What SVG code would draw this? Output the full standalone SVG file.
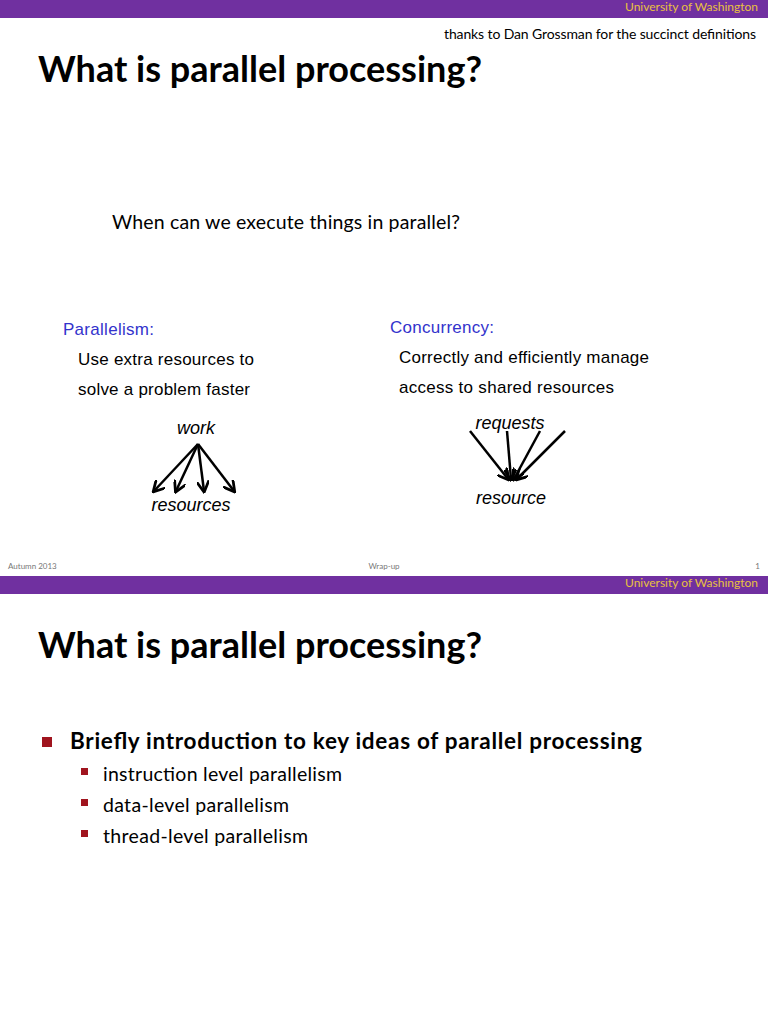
<svg xmlns="http://www.w3.org/2000/svg" width="768" height="1024" viewBox="0 0 768 1024">
<defs>
<style>
.bar{fill:#7030a0}
.uw{font-family:Lato,"Open Sans",sans-serif;font-size:12px;fill:#e8c040}
.title{font-family:Lato,sans-serif;font-size:36px;font-weight:bold;fill:#000}
.cal{font-family:Lato,sans-serif;fill:#000}
.ar{font-family:"Liberation Sans",Arial,sans-serif;fill:#000}
.blue{fill:#3333cc}
.foot{font-family:Lato,sans-serif;font-size:8px;fill:#777}
.ln{stroke:#000;stroke-width:2.5;fill:none;marker-end:url(#ah)}
</style>
<marker id="ah" viewBox="0 0 10 10" refX="8" refY="5" markerWidth="5" markerHeight="5" orient="auto"><path d="M0,0 L9,5 L0,10" fill="none" stroke="#000" stroke-width="2.2"/></marker>
</defs>
<rect width="768" height="1024" fill="#fff"/>
<g id="slide1">
<rect class="bar" x="0" y="0" width="768" height="18"/>
<text class="uw" x="758" y="11" text-anchor="end" textLength="133">University of Washington</text>
<text class="cal" x="444" y="39" font-size="14" textLength="312">thanks to Dan Grossman for the succinct definitions</text>
<text class="title" x="38" y="82" textLength="444">What is parallel processing?</text>
<text class="cal" x="112" y="229" font-size="19.5" textLength="348">When can we execute things in parallel?</text>
<g id="parallelism">
<text class="ar blue" x="63" y="335" font-size="17" textLength="91">Parallelism:</text>
<text class="ar" x="78" y="365" font-size="17" textLength="176">Use extra resources to</text>
<text class="ar" x="78" y="395" font-size="17" textLength="172">solve a problem faster</text>
<text class="ar" x="196" y="434" font-size="18" font-style="italic" text-anchor="middle">work</text>
<text class="ar" x="191" y="511" font-size="18" font-style="italic" text-anchor="middle">resources</text>
</g>
<g id="concurrency">
<text class="ar blue" x="390" y="333" font-size="17" textLength="104">Concurrency:</text>
<text class="ar" x="399" y="363" font-size="17" textLength="250">Correctly and efficiently manage</text>
<text class="ar" x="399" y="393" font-size="17" textLength="215">access to shared resources</text>
<text class="ar" x="510" y="429" font-size="18" font-style="italic" text-anchor="middle">requests</text>
<text class="ar" x="511" y="504" font-size="18" font-style="italic" text-anchor="middle">resource</text>
</g>
<g id="connectors">
<line class="ln" x1="198" y1="444" x2="154" y2="491"/>
<line class="ln" x1="198" y1="444" x2="176" y2="491"/>
<line class="ln" x1="198" y1="444" x2="204" y2="491"/>
<line class="ln" x1="198" y1="444" x2="234" y2="491"/>
<line class="ln" x1="470" y1="431" x2="508" y2="479"/>
<line class="ln" x1="507" y1="431" x2="511" y2="479"/>
<line class="ln" x1="540" y1="431" x2="514" y2="479"/>
<line class="ln" x1="565" y1="431" x2="517" y2="479"/>
</g>
<text class="foot" x="8" y="569">Autumn 2013</text>
<text class="foot" x="384" y="569" text-anchor="middle">Wrap-up</text>
<text class="foot" x="760" y="569" text-anchor="end">1</text>
</g>
<g id="slide2">
<rect class="bar" x="0" y="576" width="768" height="18"/>
<text class="uw" x="758" y="587" text-anchor="end" textLength="133">University of Washington</text>
<text class="title" x="38" y="658" textLength="444">What is parallel processing?</text>
<rect x="42" y="737" width="10" height="10" fill="#a0141e"/>
<text class="cal" x="70" y="749" font-size="22.5" font-weight="bold" textLength="572">Briefly introduction to key ideas of parallel processing</text>
<rect x="81" y="768" width="7" height="7" fill="#a0141e"/>
<text class="cal" x="103" y="781" font-size="19.5" textLength="239">instruction level parallelism</text>
<rect x="81" y="799" width="7" height="7" fill="#a0141e"/>
<text class="cal" x="103" y="812" font-size="19.5" textLength="186">data-level parallelism</text>
<rect x="81" y="830" width="7" height="7" fill="#a0141e"/>
<text class="cal" x="103" y="843" font-size="19.5" textLength="205">thread-level parallelism</text>
</g>
</svg>
